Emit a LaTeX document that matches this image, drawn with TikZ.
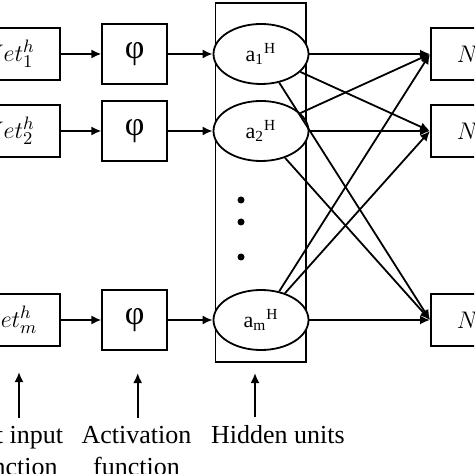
\documentclass[tikz,border=0pt]{standalone}
\usepackage{fontspec}
\setmainfont{Liberation Serif}
\usetikzlibrary{arrows.meta}
\usetikzlibrary{shapes.geometric}

\tikzset{
  netbox/.style={draw, line width=0.9pt, minimum width=51.5pt, minimum height=26pt, inner sep=0pt, font=\fontsize{13}{15}\selectfont},
  phibox/.style={draw, line width=0.9pt, minimum width=32.5pt, minimum height=30.25pt, inner sep=0pt, font=\fontsize{17}{20}\selectfont},
  unit/.style={draw, ellipse, fill=white, line width=0.9pt, minimum width=47.5pt, minimum height=30pt, inner sep=0pt, font=\fontsize{11}{13}\selectfont},
  outbox/.style={draw, line width=0.9pt, anchor=west, minimum height=26pt, text width=20pt, inner xsep=13pt, align=left, font=\fontsize{12}{14}\selectfont},
  arr/.style={line width=0.9pt, -{Latex[length=5pt,width=4.5pt]}},
  lbl/.style={align=center, font=\fontsize{13}{16}\selectfont, inner sep=0pt}
}

\begin{document}
\begin{tikzpicture}[x=0.5pt, y=-0.5pt]

\useasboundingbox (0,0) rectangle (474,474);
\clip (0,0) rectangle (474,474);

% Hidden layer frame
\node[draw, line width=0.9pt, minimum width=45.25pt, minimum height=179.8pt] (hid) at (260.75,182.5) {};

% Row 1
\node[netbox] (net1) at (8.5,54) {$Net_1^h$};
\node[phibox] (phi1) at (134.8,54) {φ};
\node[unit] (a1) at (261,54) {a\textsubscript{1}\textsuperscript{H}};
\node[outbox] (out1) at (430,54) {$N$};

% Row 2
\node[netbox] (net2) at (8.5,131) {$Net_2^h$};
\node[phibox] (phi2) at (134.8,131) {φ};
\node[unit] (a2) at (261,131) {a\textsubscript{2}\textsuperscript{H}};
\node[outbox] (out2) at (430,131) {$N$};

% Row m
\node[netbox] (netm) at (8.5,320) {$Net_m^h$};
\node[phibox] (phim) at (134.8,320) {φ};
\node[unit] (am) at (261,320) {a\textsubscript{m}\textsuperscript{H}};
\node[outbox] (outm) at (430,320) {$N$};

% Dots between the units
\fill (241,200) circle [radius=1.75pt];
\fill (241,222) circle [radius=1.75pt];
\fill (241,257) circle [radius=1.75pt];

% Along each row
\draw[arr] (net1) -- (phi1);
\draw[arr] (phi1) -- (a1);
\draw[arr] (net2) -- (phi2);
\draw[arr] (phi2) -- (a2);
\draw[arr] (netm) -- (phim);
\draw[arr] (phim) -- (am);

% Hidden to output
\draw[arr] (a1) -- (out1.west);
\draw[arr] (a1) -- (out2.west);
\draw[arr] (a1) -- (outm.west);
\draw[arr] (a2) -- (out1.west);
\draw[arr] (a2) -- (out2.west);
\draw[arr] (a2) -- (outm.west);
\draw[arr] (am) -- (out1.west);
\draw[arr] (am) -- (out2.west);
\draw[arr] (am) -- (outm.west);

% Captions (base = last line)
\node[lbl, anchor=base] (capnet) at (14.25,475.3) {Net input\\function};
\node[lbl, anchor=base] (capact) at (136.5,475.3) {Activation\\function};
\node[lbl, anchor=base] (caphid) at (278,443.3) {Hidden units};

\coordinate (tipnet) at (19,372);
\coordinate (tipact) at (137.7,373);
\coordinate (tiphid) at (255,373);

\draw[arr, shorten <=4pt] (tipnet |- capnet.north) -- (tipnet);
\draw[arr, shorten <=4pt] (tipact |- capact.north) -- (tipact);
\draw[arr, shorten <=4pt] (tiphid |- caphid.north) -- (tiphid);

\end{tikzpicture}
\end{document}
